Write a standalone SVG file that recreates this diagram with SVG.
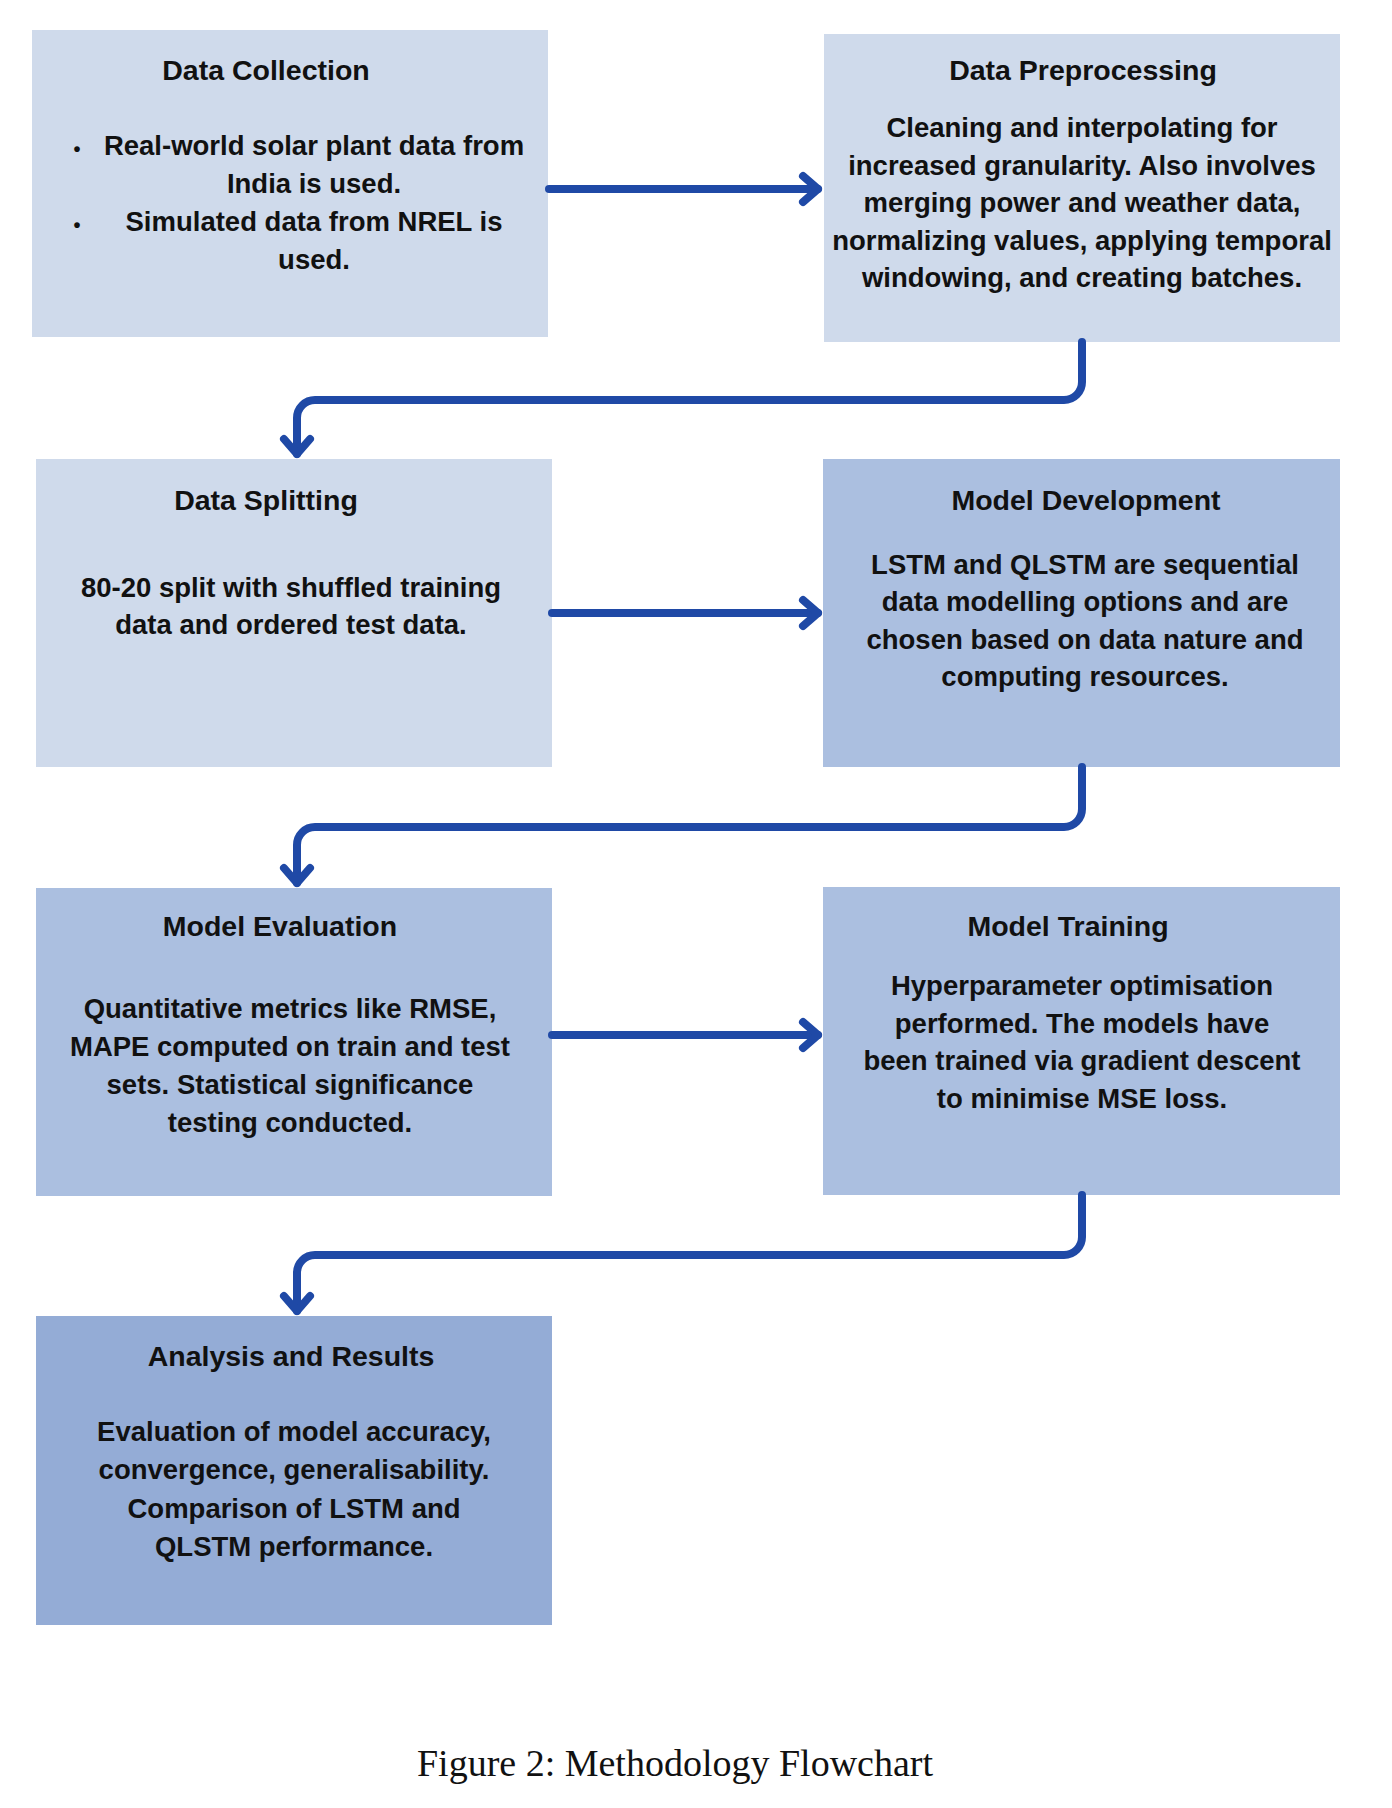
<svg xmlns="http://www.w3.org/2000/svg" width="1392" height="1808" viewBox="0 0 1392 1808">
<style>
.l1{fill:#cfdaeb}
.l2{fill:#abbfe0}
.l3{fill:#94acd6}
.t{font-family:"Liberation Sans",Arial,sans-serif;font-weight:bold;font-size:28.5px;fill:#111;text-anchor:middle}
.b{font-family:"Liberation Sans",Arial,sans-serif;font-weight:bold;font-size:27.5px;fill:#111;text-anchor:middle}
.bu{font-family:"Liberation Sans",Arial,sans-serif;font-weight:bold;font-size:20px;fill:#111;text-anchor:middle}
.c{fill:none;stroke:#1f49a6;stroke-width:8;stroke-linecap:round;stroke-linejoin:round;marker-end:url(#chev)}
.cap{font-family:"Liberation Serif","Times New Roman",serif;font-size:38px;fill:#111;text-anchor:middle}
</style>
<defs>
<marker id="chev" markerUnits="userSpaceOnUse" viewBox="-24 -22 30 44" markerWidth="30" markerHeight="44" refX="0" refY="0" orient="auto">
<path d="M -15 -13 L 0 0 L -15 13" fill="none" stroke="#1f49a6" stroke-width="8" stroke-linecap="round" stroke-linejoin="round"/>
</marker>
</defs>
<rect width="1392" height="1808" fill="#fff"/>

<g id="data-collection">
<rect class="l1" x="32" y="30" width="516" height="307"/>
<text class="t" x="266" y="80">Data Collection</text>
<text class="bu" x="77" y="156">•</text>
<text class="bu" x="77" y="232">•</text>
<text class="b" x="314" y="155">Real-world solar plant data from</text>
<text class="b" x="314" y="193">India is used.</text>
<text class="b" x="314" y="231">Simulated data from NREL is</text>
<text class="b" x="314" y="269">used.</text>
</g>

<g id="data-preprocessing">
<rect class="l1" x="824" y="34" width="516" height="308"/>
<text class="t" x="1083" y="80">Data Preprocessing</text>
<text class="b" x="1082" y="137">Cleaning and interpolating for</text>
<text class="b" x="1082" y="175">increased granularity. Also involves</text>
<text class="b" x="1082" y="212">merging power and weather data,</text>
<text class="b" x="1082" y="250">normalizing values, applying temporal</text>
<text class="b" x="1082" y="287">windowing, and creating batches.</text>
</g>

<g id="data-splitting">
<rect class="l1" x="36" y="459" width="516" height="308"/>
<text class="t" x="266" y="510">Data Splitting</text>
<text class="b" x="291" y="597">80-20 split with shuffled training</text>
<text class="b" x="291" y="634">data and ordered test data.</text>
</g>

<g id="model-development">
<rect class="l2" x="823" y="459" width="517" height="308"/>
<text class="t" x="1086" y="510">Model Development</text>
<text class="b" x="1085" y="574">LSTM and QLSTM are sequential</text>
<text class="b" x="1085" y="611">data modelling options and are</text>
<text class="b" x="1085" y="649">chosen based on data nature and</text>
<text class="b" x="1085" y="686">computing resources.</text>
</g>

<g id="model-evaluation">
<rect class="l2" x="36" y="888" width="516" height="308"/>
<text class="t" x="280" y="936">Model Evaluation</text>
<text class="b" x="290" y="1018">Quantitative metrics like RMSE,</text>
<text class="b" x="290" y="1056">MAPE computed on train and test</text>
<text class="b" x="290" y="1094">sets. Statistical significance</text>
<text class="b" x="290" y="1132">testing conducted.</text>
</g>

<g id="model-training">
<rect class="l2" x="823" y="887" width="517" height="308"/>
<text class="t" x="1068" y="936">Model Training</text>
<text class="b" x="1082" y="995">Hyperparameter optimisation</text>
<text class="b" x="1082" y="1033">performed. The models have</text>
<text class="b" x="1082" y="1070">been trained via gradient descent</text>
<text class="b" x="1082" y="1108">to minimise MSE loss.</text>
</g>

<g id="analysis-results">
<rect class="l3" x="36" y="1316" width="516" height="309"/>
<text class="t" x="291" y="1366">Analysis and Results</text>
<text class="b" x="294" y="1441">Evaluation of model accuracy,</text>
<text class="b" x="294" y="1479">convergence, generalisability.</text>
<text class="b" x="294" y="1518">Comparison of LSTM and</text>
<text class="b" x="294" y="1556">QLSTM performance.</text>
</g>

<g id="connectors">
<path class="c" d="M 549 189 H 818"/>
<path class="c" d="M 1082 342 V 382 A 18 18 0 0 1 1064 400 H 315 A 18 18 0 0 0 297 418 V 454"/>
<path class="c" d="M 552 613 H 818"/>
<path class="c" d="M 1082 767 V 809 A 18 18 0 0 1 1064 827 H 315 A 18 18 0 0 0 297 845 V 883"/>
<path class="c" d="M 552 1035 H 818"/>
<path class="c" d="M 1082 1195 V 1237 A 18 18 0 0 1 1064 1255 H 315 A 18 18 0 0 0 297 1273 V 1311"/>
</g>

<text class="cap" x="675" y="1776">Figure 2: Methodology Flowchart</text>
</svg>
